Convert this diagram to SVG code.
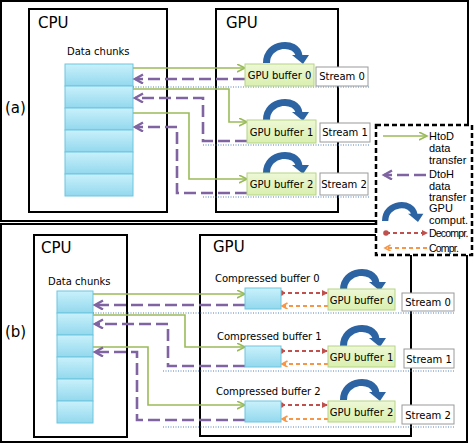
<svg xmlns="http://www.w3.org/2000/svg" width="474" height="444" viewBox="0 0 474 444">
<style>
.frame{fill:none;stroke:#000;stroke-width:2}
.box{fill:#fff;stroke:#000;stroke-width:2}
.chunk{fill:url(#gBlue);stroke:#6cc6de;stroke-width:1}
.gbuf{fill:url(#gGreen);stroke:#b6d486;stroke-width:1}
.stream{fill:#fff;stroke:#9a9a9a;stroke-width:1}
.t{font-family:"DejaVu Sans",Verdana,sans-serif;font-size:10px;fill:#000}
.big{font-size:15px}
.leg{font-family:"Liberation Sans",Arial,sans-serif;font-size:11px;fill:#000}
.sq{font-size:10.5px;letter-spacing:-0.8px}
.green{fill:none;stroke:#9bbb59;stroke-width:1.6;marker-end:url(#mGreen)}
.purple{fill:none;stroke:#8064a2;stroke-width:2.6;stroke-dasharray:12 5;marker-end:url(#mPurple)}
.red{fill:none;stroke:#c0504d;stroke-width:2;stroke-dasharray:4 3;marker-start:url(#mDot);marker-end:url(#mRed)}
.orange{fill:none;stroke:#f79646;stroke-width:2;stroke-dasharray:4 3;marker-end:url(#mOrange)}
.dot{fill:none;stroke:#4f81bd;stroke-width:1.2;stroke-dasharray:1 1.5}
</style>
<defs>
<linearGradient id="gBlue" x1="0" y1="0" x2="0" y2="1"><stop offset="0" stop-color="#c9f1fb"/><stop offset="1" stop-color="#93d8ee"/></linearGradient>
<linearGradient id="gGreen" x1="0" y1="0" x2="0" y2="1"><stop offset="0" stop-color="#eef8d6"/><stop offset="1" stop-color="#d9efaf"/></linearGradient>
<marker id="mGreen" markerUnits="userSpaceOnUse" markerWidth="10" markerHeight="10" refX="8" refY="4" orient="auto"><path d="M0,0 L8,4 L0,8" fill="none" stroke="#9bbb59" stroke-width="1.6"/></marker>
<marker id="mPurple" markerUnits="userSpaceOnUse" markerWidth="12" markerHeight="12" refX="9" refY="5" orient="auto"><path d="M1,0.5 L9,5 L1,9.5" fill="none" stroke="#8064a2" stroke-width="2.4"/></marker>
<marker id="mRed" markerUnits="userSpaceOnUse" markerWidth="8" markerHeight="8" refX="6" refY="3" orient="auto"><path d="M0,0 L6,3 L0,6 Z" fill="#c0504d"/></marker>
<marker id="mDot" markerUnits="userSpaceOnUse" markerWidth="8" markerHeight="8" refX="3" refY="3" orient="auto"><circle cx="3" cy="3" r="2.8" fill="#c0504d"/></marker>
<marker id="mOrange" markerUnits="userSpaceOnUse" markerWidth="8" markerHeight="8" refX="6" refY="3" orient="auto"><path d="M0.5,0 L6,3 L0.5,6" fill="none" stroke="#f79646" stroke-width="1.6"/></marker>
<g id="arc">
<path d="M3.5,0 C3.5,-21 34,-23 36,-7" fill="none" stroke="#2c63a3" stroke-width="7"/>
<path d="M29,-8 L46,-8 L40,1 Z" fill="#2c63a3"/>
</g>
</defs>
<rect width="474" height="444" fill="#fff"/>

<g id="panel-a">
<rect class="frame" x="1" y="1" width="467" height="220"/>
<text class="t big" x="5" y="113">(a)</text>
</g>
<g id="panel-b">
<rect class="frame" x="1" y="224" width="466" height="218"/>
<text class="t big" x="5" y="337">(b)</text>
</g>

<g id="cpu-a">
<rect class="box" x="29" y="9" width="138" height="203"/>
<text class="t big" x="38" y="28">CPU</text>
<text class="t" x="67" y="55">Data chunks</text>
<rect class="chunk" x="65" y="64" width="68" height="22"/>
<rect class="chunk" x="65" y="86" width="68" height="22"/>
<rect class="chunk" x="65" y="108" width="68" height="22"/>
<rect class="chunk" x="65" y="130" width="68" height="22"/>
<rect class="chunk" x="65" y="152" width="68" height="22"/>
<rect class="chunk" x="65" y="174" width="68" height="22"/>
</g>
<g id="gpu-a">
<rect class="box" x="216" y="9" width="122" height="203"/>
<text class="t big" x="226" y="28">GPU</text>
</g>

<g id="cpu-b">
<rect class="box" x="34" y="235" width="93" height="202"/>
<text class="t big" x="41" y="253">CPU</text>
<text class="t" x="48" y="285">Data chunks</text>
<rect class="chunk" x="57" y="291" width="36" height="22"/>
<rect class="chunk" x="57" y="313" width="36" height="22"/>
<rect class="chunk" x="57" y="335" width="36" height="22"/>
<rect class="chunk" x="57" y="357" width="36" height="22"/>
<rect class="chunk" x="57" y="379" width="36" height="22"/>
<rect class="chunk" x="57" y="401" width="36" height="22"/>
</g>
<g id="gpu-b">
<rect class="box" x="200" y="235" width="211" height="201"/>
<text class="t big" x="213" y="252">GPU</text>
</g>

<g id="connectors">
<path class="dot" d="M133,87 H370"/>
<path class="dot" d="M203,145 H370"/>
<path class="dot" d="M203,197 H370"/>
<path class="green" d="M133,68 H245"/>
<path class="green" d="M133,89 H229 V122 H247"/>
<path class="green" d="M133,113 H189 V179 H247"/>
<path class="purple" d="M245,79 H135"/>
<path class="purple" d="M247,141 H203 V98 H135"/>
<path class="purple" d="M247,193 H177 V127 H135"/>

<path class="dot" d="M93,313 H454"/>
<path class="dot" d="M163,371 H454"/>
<path class="dot" d="M163,427 H454"/>
<path class="green" d="M93,294 H245"/>
<path class="green" d="M93,315 H185 V347 H245"/>
<path class="green" d="M93,347 H148 V405 H245"/>
<path class="purple" d="M245,305 H95"/>
<path class="purple" d="M245,366 H168 V324 H95"/>
<path class="purple" d="M245,420 H137 V352 H95"/>
<path class="red" d="M281,293 H328"/>
<path class="red" d="M281,351 H328"/>
<path class="red" d="M281,405 H328"/>
<path class="orange" d="M328,306 H282"/>
<path class="orange" d="M328,364 H282"/>
<path class="orange" d="M328,419 H282"/>
</g>

<g id="gpu-buffers-a">
<use href="#arc" x="263" y="63"/>
<use href="#arc" x="263" y="120"/>
<use href="#arc" x="263" y="173"/>
<rect class="gbuf" x="245" y="64" width="69" height="22"/>
<text class="t" x="279.5" y="79" text-anchor="middle">GPU buffer 0</text>
<rect class="gbuf" x="247" y="120" width="69" height="23"/>
<text class="t" x="281.5" y="135.5" text-anchor="middle">GPU buffer 1</text>
<rect class="gbuf" x="247" y="173" width="69" height="22"/>
<text class="t" x="281.5" y="188" text-anchor="middle">GPU buffer 2</text>
</g>
<g id="streams-a">
<rect class="stream" x="316" y="67" width="52" height="19"/>
<text class="t" x="342" y="80" text-anchor="middle">Stream 0</text>
<rect class="stream" x="320" y="123" width="50" height="19"/>
<text class="t" x="345" y="136" text-anchor="middle">Stream 1</text>
<rect class="stream" x="320" y="173" width="48" height="22"/>
<text class="t" x="344" y="188" text-anchor="middle">Stream 2</text>
</g>

<g id="buffers-b">
<text class="t" x="215" y="282">Compressed buffer 0</text>
<text class="t" x="217" y="340">Compressed buffer 1</text>
<text class="t" x="216" y="395">Compressed buffer 2</text>
<rect class="chunk" x="245" y="288" width="36" height="21"/>
<rect class="chunk" x="245" y="346" width="36" height="21"/>
<rect class="chunk" x="245" y="401" width="36" height="21"/>
<use href="#arc" x="340" y="290"/>
<use href="#arc" x="340" y="346"/>
<use href="#arc" x="340" y="400"/>
<rect class="gbuf" x="328" y="289" width="67" height="21"/>
<text class="t" x="361.5" y="303.5" text-anchor="middle">GPU buffer 0</text>
<rect class="gbuf" x="328" y="346" width="67" height="21"/>
<text class="t" x="361.5" y="360.5" text-anchor="middle">GPU buffer 1</text>
<rect class="gbuf" x="328" y="401" width="67" height="21"/>
<text class="t" x="361.5" y="415.5" text-anchor="middle">GPU buffer 2</text>
</g>
<g id="streams-b">
<rect class="stream" x="402" y="293" width="52" height="18"/>
<text class="t" x="428" y="306" text-anchor="middle">Stream 0</text>
<rect class="stream" x="404" y="349" width="50" height="19"/>
<text class="t" x="429" y="362.5" text-anchor="middle">Stream 1</text>
<rect class="stream" x="402" y="405" width="52" height="19"/>
<text class="t" x="428" y="418.5" text-anchor="middle">Stream 2</text>
</g>

<g id="legend">
<rect x="376" y="125" width="96" height="130" fill="#fff" stroke="#000" stroke-width="2.5" stroke-dasharray="5 3"/>
<path class="green" d="M383,136 H427"/>
<text class="leg" x="429" y="140">HtoD</text>
<text class="leg" x="429" y="152">data</text>
<text class="leg" x="429" y="163.5">transfer</text>
<path class="purple" d="M426,175 H384"/>
<text class="leg" x="429" y="178">DtoH</text>
<text class="leg" x="429" y="189.5">data</text>
<text class="leg" x="429" y="200.5">transfer</text>
<use href="#arc" transform="translate(382,221) scale(0.9)"/>
<text class="leg" x="429" y="212">GPU</text>
<text class="leg" x="429" y="223.5">comput.</text>
<path class="red" d="M386,233 H428"/>
<text class="leg sq" x="429" y="237">Decompr.</text>
<path class="orange" d="M427,248 H385"/>
<text class="leg sq" x="429" y="251.5">Compr.</text>
</g>
</svg>
